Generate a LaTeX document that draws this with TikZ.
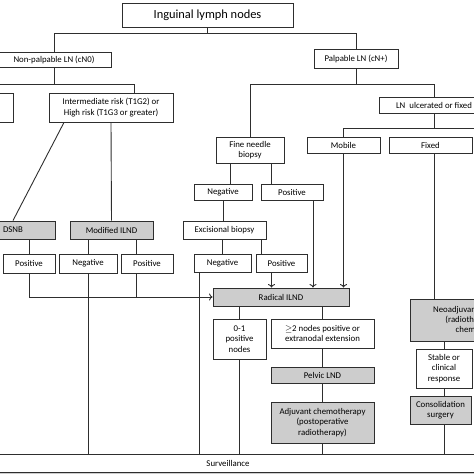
\documentclass[tikz,border=0pt]{standalone}
\usepackage{fontspec}
\setmainfont{Carlito}
\usetikzlibrary{calc, arrows.meta}

\begin{document}
\begin{tikzpicture}[x=1pt, y=-1pt,
    box/.style={draw=borderColour, line width=0.9pt, fill=white, inner sep=1pt, align=center, font=\fontsize{8.8}{10.2}\selectfont},
    greyBox/.style={box, fill=fillColour},
    link/.style={draw=borderColour, line width=0.9pt},
    arrowLink/.style={link, -{To[length=3.5pt, width=7pt]}}]
    % Define colours
    \definecolor{borderColour}{HTML}{2E2E2E}
    \definecolor{fillColour}{HTML}{CDCDCD}

    % Fix the frame
    \useasboundingbox (0,0) rectangle (474,474);
    \clip (0,0) rectangle (474,474);

    % Top level
    \node[box, minimum width=171pt, minimum height=24pt, font=\fontsize{12.4}{14}\selectfont] (top) at (207.5,15) {Inguinal lymph nodes};
    \node[box, minimum width=114pt, minimum height=15pt] (nonPalp) at (54,59.5) {Non-palpable LN (cN0)};
    \node[box, minimum width=84pt, minimum height=19pt] (palp) at (356,58.5) {Palpable LN (cN+)};

    % Non-palpable branch
    \node[box, minimum width=66pt, minimum height=29pt] (lowRisk) at (-20,107.5) {};
    \node[box, minimum width=124pt, minimum height=29pt] (interRisk) at (111,107.5) {Intermediate risk (T1G2) or\\High risk (T1G3 or greater)};
    \node[greyBox, minimum width=84pt, minimum height=18pt] (dsnb) at (13,230) {DSNB};
    \node[greyBox, minimum width=83pt, minimum height=18pt] (modIlnd) at (111.5,230) {Modified ILND};
    \node[box, minimum width=52pt, minimum height=19pt] (dsnbPos) at (29,263.5) {Positive};
    \node[box, minimum width=58pt, minimum height=19pt] (modNeg) at (88,263.5) {Negative};
    \node[box, minimum width=52pt, minimum height=19pt] (modPos) at (147,263.5) {Positive};

    % Palpable branch
    \node[box, minimum width=68pt, minimum height=26pt] (fna) at (250,150) {Fine needle\\biopsy};
    \node[box, minimum width=58pt, minimum height=16pt] (fnaNeg) at (223,192) {Negative};
    \node[box, minimum width=62pt, minimum height=16pt] (fnaPos) at (292,192) {Positive};
    \node[box, minimum width=83pt, minimum height=18pt] (excBiopsy) at (224.5,230) {Excisional biopsy};
    \node[box, minimum width=57pt, minimum height=18pt] (excNeg) at (222.5,263) {Negative};
    \node[box, minimum width=51pt, minimum height=18pt] (excPos) at (281.5,263) {Positive};
    \node[box, minimum width=110pt, minimum height=16pt] (ulcer) at (434,105) {LN\ \ ulcerated or fixed};
    \node[box, minimum width=73pt, minimum height=16pt] (mobile) at (343.5,145) {Mobile};
    \node[box, minimum width=83pt, minimum height=16pt] (fixed) at (430.5,145) {Fixed};

    % Radical ILND and after
    \node[greyBox, minimum width=136pt, minimum height=18pt] (radIlnd) at (281,297) {Radical ILND};
    \node[box, minimum width=53pt, minimum height=40pt] (fewNodes) at (239.5,339) {0-1\\positive\\nodes};
    \node[box, minimum width=103pt, minimum height=29pt] (manyNodes) at (322.5,333.5) {$\geq$2 nodes positive or\\extranodal extension};
    \node[greyBox, minimum width=103pt, minimum height=16pt] (pelvic) at (322.5,375) {Pelvic LND};
    \node[greyBox, minimum width=103pt, minimum height=41pt] (adjuvant) at (322.5,422.5) {Adjuvant chemotherapy\\(postoperative\\radiotherapy)};
    \node[greyBox, minimum width=146pt, minimum height=42pt] (neoadj) at (483,320) {Neoadjuvant chemotherapy\\(radiotherapy and/or\\chemotherapy)};
    \node[box, minimum width=56pt, minimum height=39pt] (stable) at (444,368.5) {Stable or\\clinical\\response};
    \node[greyBox, minimum width=61pt, minimum height=28pt] (consol) at (440.5,410) {Consolidation\\surgery};

    % Bottom row
    \node[box, minimum width=500pt, minimum height=18pt] (surv) at (228,463) {Surveillance};
    \node[greyBox, minimum width=500pt, minimum height=20pt] (nextRow) at (228,482) {};

    % Draw links from the top
    \draw[link] (top.south) -- ++(0,6) -| (nonPalp.north);
    \draw[link] (top.south) -- ++(0,6) -| (palp.north);

    % Non-palpable links
    \draw[link] (nonPalp.south) -- ++(0,17) -| (lowRisk.north);
    \draw[link] (nonPalp.south) -- ++(0,17) -| ([xshift=23pt]interRisk.north);
    \draw[link] ([xshift=-47pt]interRisk.south) -- (dsnb.north);
    \draw[link] (interRisk.south) -- (modIlnd.north);
    \draw[link] (dsnbPos.north |- dsnb.south) -- (dsnbPos.north);
    \draw[link] (modNeg.north |- modIlnd.south) -- (modNeg.north);
    \draw[link] ([xshift=-11pt]modPos.north |- modIlnd.south) -- ([xshift=-11pt]modPos.north);
    \draw[arrowLink] (dsnbPos.south) |- (radIlnd.west);
    \draw[link] ([xshift=-11pt]modPos.south) -- ([xshift=-11pt]modPos.south |- radIlnd.west);
    \draw[link] (modNeg.south) -- (modNeg.south |- surv.north);

    % Palpable links
    \draw[link] (palp.south) -- ++(0,16) -| (fna.north);
    \draw[link] (palp.south) -- ++(0,16) -| (ulcer.north);
    \draw[link] ([xshift=-20pt]fna.south) -- ([xshift=-20pt]fna.south |- fnaNeg.north);
    \draw[link] ([xshift=21pt]fna.south) -- ([xshift=21pt]fna.south |- fnaPos.north);
    \draw[link] (fnaNeg.south) -- (fnaNeg.south |- excBiopsy.north);
    \draw[link] (excNeg.north |- excBiopsy.south) -- (excNeg.north);
    \draw[link] ([xshift=-20pt]excPos.north |- excBiopsy.south) -- ([xshift=-20pt]excPos.north);
    \draw[link] ([xshift=-23pt]excNeg.south) -- ([xshift=-23pt]excNeg.south |- surv.north);
    \draw[arrowLink] ([xshift=-10pt]excPos.south) -- ([xshift=-10pt]excPos.south |- radIlnd.north);
    \draw[arrowLink] ([xshift=21pt]fnaPos.south) -- ([xshift=21pt]fnaPos.south |- radIlnd.north);
    \draw[link] (ulcer.south) -- ++(0,15) -| (mobile.north);
    \draw[link] (ulcer.south) -- ++(0,15) -- ++(60,0);
    \draw[arrowLink] (mobile.south) -- (mobile.south |- radIlnd.north);
    \draw[link] ([xshift=3.5pt]fixed.south) -- ([xshift=3.5pt]fixed.south |- neoadj.north);

    % Treatment links
    \draw[link] (fewNodes.north |- radIlnd.south) -- (fewNodes.north);
    \draw[link] (manyNodes.north |- radIlnd.south) -- (manyNodes.north);
    \draw[link] (fewNodes.south) -- (fewNodes.south |- surv.north);
    \draw[link] (manyNodes.south) -- (pelvic.north);
    \draw[link] (pelvic.south) -- (adjuvant.north);
    \draw[link] (adjuvant.south) -- (adjuvant.south |- surv.north);
    \draw[link] (stable.north |- neoadj.south) -- (stable.north);
    \draw[link] (stable.south) -- (stable.south |- consol.north);
    \draw[link] (stable.south |- consol.south) -- (stable.south |- surv.north);

\end{tikzpicture}
\end{document}
